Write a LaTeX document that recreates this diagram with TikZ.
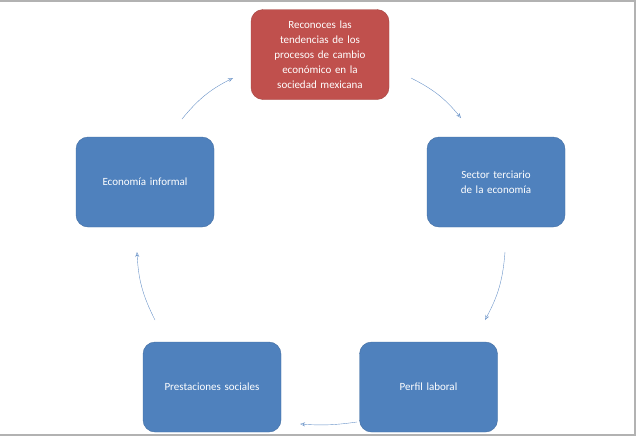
\documentclass[tikz,border=0pt]{standalone}
\usepackage{fontspec}
\setmainfont{Carlito}
\usetikzlibrary{arrows.meta,positioning}
\definecolor{boxblue}{HTML}{4F81BD}
\definecolor{boxred}{HTML}{C0504D}
\definecolor{arrowblue}{HTML}{6A93C8}
\begin{document}
\begin{tikzpicture}[x=1pt,y=-1pt,font=\fontsize{11}{15}\selectfont]
    \tikzstyle{stage box}=[rectangle,rounded corners=12pt,fill=boxblue,draw=boxblue!85!black,
        text=white,minimum width=138pt,minimum height=90pt,align=center,text width=125pt]
    \tikzstyle{goal box}=[stage box,fill=boxred,draw=boxred!85!black]
    \tikzstyle{cycle arrow}=[->,>={Stealth[length=5pt,width=4pt,open]},draw=arrowblue,thin]

    \useasboundingbox (0,0) rectangle (640,437);
    \draw[gray!60,line width=1.5pt] (0,1) -- (635,1) -- (635,435) -- (0,435);

    % the five stages
    \node[goal box] (G) at (320,54.5) {Reconoces las\\ tendencias de los\\ procesos de cambio\\ económico en la\\ sociedad mexicana};
    \node[stage box] (S) at (496,182) {Sector terciario de la economía};
    \node[stage box] (P) at (428.5,387) {Perfil laboral};
    \node[stage box] (R) at (212,387) {Prestaciones sociales};
    \node[stage box] (E) at (145,182) {Economía informal};

    % arrow ends
    \coordinate (e1) at (182,119); \coordinate (g1) at (233,78);
    \coordinate (g2) at (411,78);  \coordinate (s1) at (461,118);
    \coordinate (s2) at (505,252); \coordinate (p1) at (485,320);
    \coordinate (p2) at (357,422); \coordinate (r1) at (300,424);
    \coordinate (r2) at (155,320); \coordinate (e2) at (137,252);

    \draw[cycle arrow] (e1) to[bend left=12] (g1);
    \draw[cycle arrow] (g2) to[bend left=12] (s1);
    \draw[cycle arrow] (s2) to[bend left=12] (p1);
    \draw[cycle arrow] (p2) to[bend left=6] (r1);
    \draw[cycle arrow] (r2) to[bend left=12] (e2);
\end{tikzpicture}
\end{document}
